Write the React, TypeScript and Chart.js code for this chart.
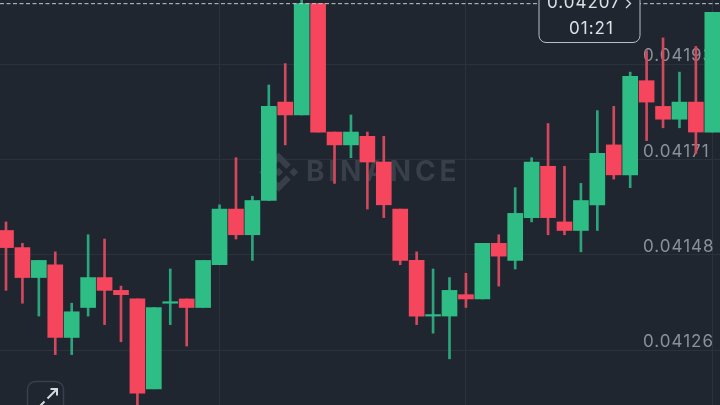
import React, { useEffect, useRef } from "react";
import { Chart, registerables } from "chart.js";

Chart.register(...registerables);

const open = [0.04154,0.0415,0.04143,0.04146,0.04129,0.04136,0.04143,0.0414,0.04138,0.04117,0.04137,0.04138,0.04136,0.04146,0.04159,0.04153,0.04161,0.04184,0.04181,0.04207,0.04177,0.04174,0.04176,0.0417,0.04159,0.04147,0.04134,0.04134,0.04139,0.04138,0.04151,0.04147,0.04157,0.04169,0.04156,0.04154,0.0416,0.04174,0.04167,0.04189,0.04183,0.0418,0.04184,0.04177];
const high = [0.04156,0.04151,0.04147,0.04149,0.04137,0.04153,0.04152,0.04141,0.04138,0.04136,0.04145,0.04138,0.04147,0.0416,0.04171,0.04162,0.04188,0.04193,0.04208,0.04207,0.04177,0.04181,0.04177,0.04176,0.04159,0.04149,0.04145,0.04143,0.04144,0.04151,0.04153,0.04164,0.04171,0.04179,0.04169,0.04165,0.04182,0.04183,0.04191,0.04196,0.04199,0.04191,0.04197,0.04205];
const low = [0.0414,0.04137,0.04134,0.04125,0.04125,0.04134,0.04132,0.04128,0.04113,0.04117,0.04132,0.04127,0.04136,0.04146,0.04152,0.04147,0.04161,0.04174,0.04181,0.04177,0.04165,0.04171,0.04159,0.04157,0.04146,0.04132,0.0413,0.04124,0.04136,0.04138,0.04141,0.04145,0.04156,0.04153,0.04153,0.04149,0.04154,0.04166,0.04164,0.04175,0.04178,0.04178,0.04172,0.04177];
const close = [0.0415,0.04143,0.04147,0.04129,0.04135,0.04143,0.0414,0.04139,0.04116,0.04136,0.04137,0.04136,0.04147,0.04159,0.04153,0.04161,0.04183,0.04181,0.04207,0.04177,0.04174,0.04177,0.0417,0.0416,0.04147,0.04134,0.04134,0.0414,0.04138,0.04151,0.04148,0.04158,0.0417,0.04157,0.04154,0.04161,0.04172,0.04167,0.0419,0.04184,0.0418,0.04184,0.04177,0.04205];
const candleIndex = open.map((_, i) => i);
const priceTicks = [0.04126, 0.041483, 0.041706, 0.041929];
const timeGrid = [13, 28, 43];
const lastPrice = 0.04207;
const lastPriceLabel = "0.04207";
const countdownLabel = "01:21";
const watermark = "BINANCE";

const up = "#2EBD85";
const down = "#F6465D";
const upWick = "#2BA67C";
const downWick = "#D2485C";
const bg = "#1F2630";
const gridColor = "#2C323C";
const FONT = "Inter, 'Noto Sans', sans-serif";

const isUp = (i: number) => close[i] >= open[i];

const logoPaths = [
  "M38.73 53.2l24.59-24.58 24.6 24.6 14.3-14.31L63.32 0 24.43 38.9z",
  "M0 63.31l14.3-14.31 14.31 14.31-14.31 14.3z",
  "M38.73 73.41l24.59 24.59 24.6-24.6 14.31 14.29-38.9 38.91-38.91-38.88z",
  "M98.03 63.31l14.3-14.31 14.31 14.31-14.31 14.3z",
  "M77.83 63.3L63.32 48.78 52.59 59.51l-1.24 1.23-2.54 2.54 14.51 14.52 14.51-14.51z",
];

const decor = {
  id: "decor",
  beforeDraw(chart: any) {
    chart.ctx.letterSpacing = "1px";
  },
  beforeDatasetsDraw(chart: any) {
    const c = chart.ctx;
    c.save();
    c.fillStyle = "#393F49";
    c.save();
    c.translate(259, 152.5);
    c.scale(0.31, 0.31);
    logoPaths.forEach((d) => c.fill(new Path2D(d)));
    c.restore();
    c.font = `700 28px ${FONT}`;
    c.textAlign = "left";
    c.textBaseline = "middle";
    c.letterSpacing = "3.8px";
    c.fillText(watermark, 306, 172.5);
    c.restore();
  },
  afterDatasetsDraw(chart: any) {
    const c = chart.ctx;
    c.save();
    // price tag
    c.beginPath();
    c.roundRect(539, -20, 101, 62.5, 7);
    c.fillStyle = bg;
    c.fill();
    c.strokeStyle = "#B9BDC4";
    c.lineWidth = 1;
    c.stroke();
    c.fillStyle = "#DDE0E4";
    c.font = `400 17px ${FONT}`;
    c.textBaseline = "middle";
    c.textAlign = "left";
    c.letterSpacing = "1px";
    c.fillText(lastPriceLabel, 547, 3);
    c.fillText(countdownLabel, 569, 29);
    c.beginPath();
    c.moveTo(626, -1);
    c.lineTo(630.5, 3.5);
    c.lineTo(626, 8);
    c.strokeStyle = "#DDE0E4";
    c.lineWidth = 1.3;
    c.stroke();
    // expand button
    c.beginPath();
    c.roundRect(27.5, 381.5, 36, 40, 8);
    c.strokeStyle = "#3A404B";
    c.lineWidth = 1.5;
    c.stroke();
    c.strokeStyle = "#D5D8DC";
    c.lineWidth = 2;
    c.beginPath();
    c.moveTo(47.5, 398.5);
    c.lineTo(57, 389);
    c.moveTo(50.5, 389);
    c.lineTo(57, 389);
    c.lineTo(57, 395.5);
    c.moveTo(44.5, 401.5);
    c.lineTo(38, 408);
    c.stroke();
    c.restore();
  },
};

export default function App() {
  const ref = useRef<HTMLCanvasElement>(null);
  useEffect(() => {
    document.body.style.margin = "0";
    document.body.style.background = bg;
    const chart = new Chart(ref.current!, {
      type: "bar",
      data: {
        datasets: [
          {
            type: "bar",
            order: 3,
            grouped: false,
            barThickness: 2,
            data: candleIndex.map((i) => ({ x: i, y: [low[i], high[i]] })),
            backgroundColor: (ctx: any) => (isUp(ctx.dataIndex) ? upWick : downWick),
          },
          {
            type: "bar",
            order: 2,
            grouped: false,
            barThickness: 15,
            minBarLength: 1.5,
            data: candleIndex.map((i) => ({ x: i, y: [open[i], close[i]] })),
            backgroundColor: (ctx: any) => (isUp(ctx.dataIndex) ? up : down),
          },
          {
            type: "line",
            order: 1,
            data: [
              { x: -0.3653, y: lastPrice },
              { x: 43.468, y: lastPrice },
            ],
            borderColor: "#C4C8CE",
            borderWidth: 1,
            borderDash: [4, 2.5],
            pointRadius: 0,
          },
        ],
      } as any,
      options: {
        responsive: false,
        animation: false,
        layout: { padding: 0 },
        plugins: { legend: { display: false }, tooltip: { enabled: false } },
        scales: {
          x: {
            type: "linear",
            offset: false,
            min: -0.3653,
            max: 43.468,
            border: { display: false },
            grid: { offset: false, color: gridColor, drawTicks: false, lineWidth: 1 },
            ticks: { display: false },
            afterBuildTicks: (s: any) => {
              s.ticks = timeGrid.map((value) => ({ value }));
            },
          },
          y: {
            type: "linear",
            position: "left",
            min: 0.04113217,
            max: 0.04207858,
            border: { display: false },
            grid: { color: gridColor, drawTicks: false, lineWidth: 1 },
            afterBuildTicks: (s: any) => {
              s.ticks = priceTicks.map((value) => ({ value }));
            },
            afterFit: (s: any) => {
              s.paddingTop = 0;
              s.paddingBottom = 0;
              s.width = 0;
            },
            ticks: {
              mirror: true,
              padding: 643,
              labelOffset: -8,
              color: "#8B9099",
              font: { family: FONT, size: 17, weight: "400" },
              callback: (v: any) => Number(v).toFixed(5),
            },
          },
        },
      },
      plugins: [decor],
    } as any);
    return () => chart.destroy();
  }, []);
  return (
    <div style={{ width: 720, height: 405, overflow: "hidden", background: bg }}>
      <canvas ref={ref} width={720} height={405} style={{ display: "block" }} />
    </div>
  );
}
